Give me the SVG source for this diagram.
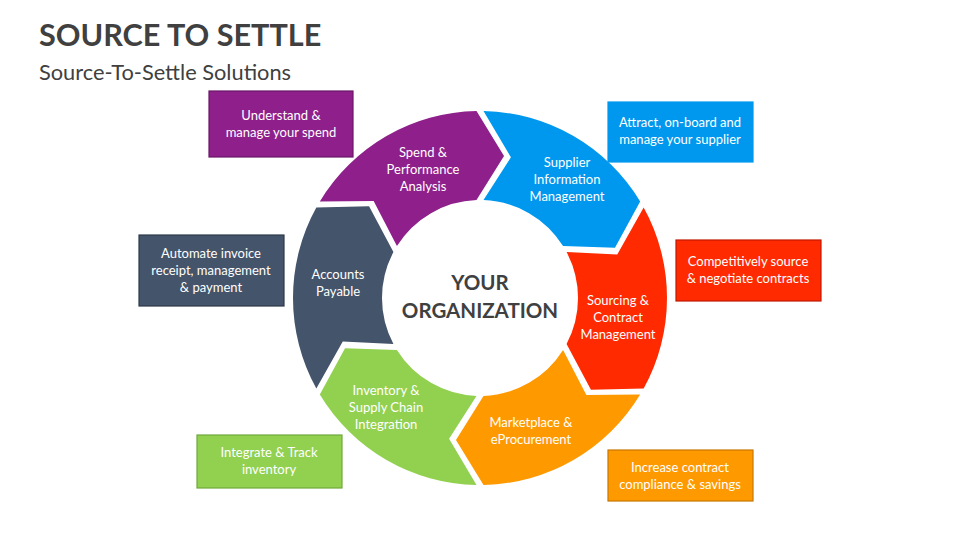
<svg xmlns="http://www.w3.org/2000/svg" width="960" height="540" viewBox="0 0 960 540">
<style>
.seg-label{font-family:Lato,"Open Sans","Liberation Sans",sans-serif;font-size:13px;fill:#ffffff;text-anchor:middle}
.box-label{font-family:Lato,"Open Sans","Liberation Sans",sans-serif;font-size:13px;fill:#ffffff;text-anchor:middle}
.box{stroke-width:1.2}
.center{font-family:Lato,"Open Sans","Liberation Sans",sans-serif;font-size:20.5px;font-weight:bold;fill:#404040;text-anchor:middle}
</style>
<rect x="0" y="0" width="960" height="540" fill="#ffffff"/>
<g id="title">
<text x="39" y="46" font-family="Lato,'Open Sans','Liberation Sans',sans-serif" font-size="30.6" font-weight="bold" fill="#404040">SOURCE TO SETTLE</text>
<text x="39" y="80" font-family="Lato,'Open Sans','Liberation Sans',sans-serif" font-size="21.8" fill="#404040">Source-To-Settle Solutions</text>
</g>
<g id="seg-spend">
<path d="M319.83,201.49 A187,187 0 0 1 476.50,111.03 L504.03,156.02 L476.50,200.06 A98,98 0 0 0 396.93,246.00 L373.65,200.91 Z" fill="#8E1F8B"/>
<text class="seg-label"><tspan x="423" y="157">Spend &amp;</tspan><tspan x="423" y="174">Performance</tspan><tspan x="423" y="191">Analysis</tspan></text>
</g>
<g id="seg-supplier">
<path d="M483.50,111.03 A187,187 0 0 1 640.17,201.48 L614.97,247.82 L563.07,246.00 A98,98 0 0 0 483.50,200.06 L510.91,157.36 Z" fill="#0098EE"/>
<text class="seg-label"><tspan x="567" y="167">Supplier</tspan><tspan x="567" y="184">Information</tspan><tspan x="567" y="201">Management</tspan></text>
</g>
<g id="seg-sourcing">
<path d="M643.67,207.55 A187,187 0 0 1 643.67,388.45 L590.94,389.80 L566.57,343.94 A98,98 0 0 0 566.57,252.06 L617.25,254.44 Z" fill="#FF2A00"/>
<text class="seg-label"><tspan x="618" y="305">Sourcing &amp;</tspan><tspan x="618" y="322">Contract</tspan><tspan x="618" y="339">Management</tspan></text>
</g>
<g id="seg-marketplace">
<path d="M640.17,394.51 A187,187 0 0 1 483.50,484.97 L455.97,439.98 L483.50,395.94 A98,98 0 0 0 563.07,350.00 L586.35,395.09 Z" fill="#FF9900"/>
<text class="seg-label"><tspan x="531" y="427">Marketplace &amp;</tspan><tspan x="531" y="444">eProcurement</tspan></text>
</g>
<g id="seg-inventory">
<path d="M476.50,484.97 A187,187 0 0 1 319.83,394.51 L345.03,348.18 L396.93,350.00 A98,98 0 0 0 476.50,395.94 L449.09,438.64 Z" fill="#92D050"/>
<text class="seg-label"><tspan x="386" y="395">Inventory &amp;</tspan><tspan x="386" y="412">Supply Chain</tspan><tspan x="386" y="429">Integration</tspan></text>
</g>
<g id="seg-payable">
<path d="M316.33,388.45 A187,187 0 0 1 316.33,207.55 L369.06,206.20 L393.43,252.06 A98,98 0 0 0 393.43,343.94 L342.75,341.56 Z" fill="#44546A"/>
<text class="seg-label"><tspan x="338" y="279">Accounts</tspan><tspan x="338" y="296">Payable</tspan></text>
</g>
<g id="center">
<text class="center"><tspan x="480" y="290">YOUR</tspan><tspan x="480" y="318">ORGANIZATION</tspan></text>
</g>
<g id="box-spend">
<rect class="box" x="209" y="91" width="144" height="66" fill="#8E1F8B" stroke="#6B1769"/>
<text class="box-label"><tspan x="281" y="120">Understand &amp;</tspan><tspan x="281" y="137">manage your spend</tspan></text>
</g>
<g id="box-supplier">
<rect class="box" x="608" y="102" width="145" height="60" fill="#0098EE" stroke="#0098EE"/>
<text class="box-label"><tspan x="680" y="127">Attract, on-board and</tspan><tspan x="680" y="144">manage your supplier</tspan></text>
</g>
<g id="box-sourcing">
<rect class="box" x="676" y="240" width="145" height="61" fill="#FF2A00" stroke="#C01A00"/>
<text class="box-label"><tspan x="748" y="266">Competitively source</tspan><tspan x="748" y="283">&amp; negotiate contracts</tspan></text>
</g>
<g id="box-payable">
<rect class="box" x="139" y="235" width="145" height="71" fill="#44546A" stroke="#2E3A4A"/>
<text class="box-label"><tspan x="211" y="258">Automate invoice</tspan><tspan x="211" y="275">receipt, management</tspan><tspan x="211" y="292">&amp; payment</tspan></text>
</g>
<g id="box-inventory">
<rect class="box" x="197" y="435" width="145" height="53" fill="#92D050" stroke="#6FA83A"/>
<text class="box-label"><tspan x="269" y="457">Integrate &amp; Track</tspan><tspan x="269" y="474">inventory</tspan></text>
</g>
<g id="box-marketplace">
<rect class="box" x="608" y="450" width="145" height="51" fill="#FF9900" stroke="#C77700"/>
<text class="box-label"><tspan x="680" y="472">Increase contract</tspan><tspan x="680" y="489">compliance &amp; savings</tspan></text>
</g>
<g id="connectors"/>
</svg>
